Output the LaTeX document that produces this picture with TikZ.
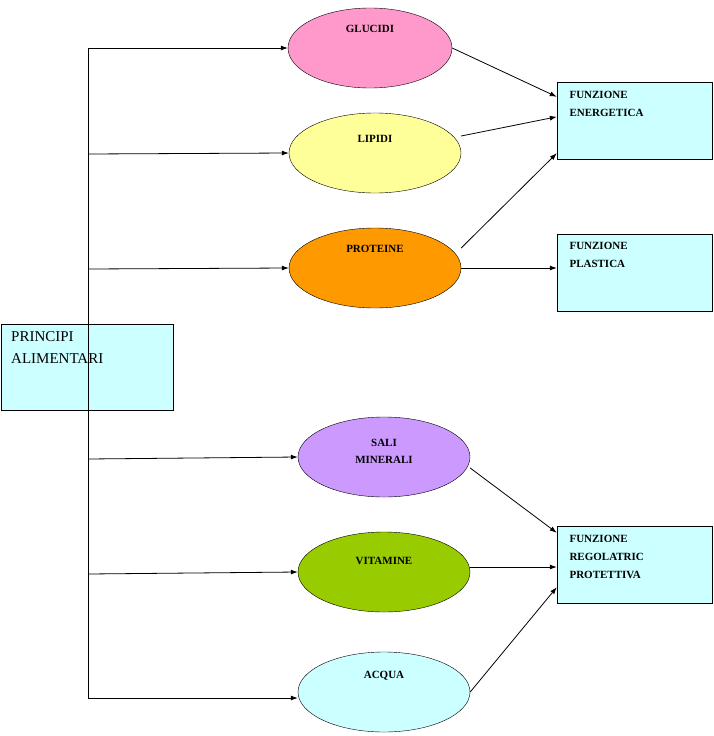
\documentclass[tikz,border=0pt]{standalone}
\usepackage{fontspec}
\setmainfont{Liberation Serif}
\usetikzlibrary{shapes.geometric,arrows.meta,calc}
\begin{document}
\begin{tikzpicture}[x=1pt,y=-1pt,
  ell/.style={ellipse,draw,minimum width=172pt,minimum height=80pt,inner sep=0pt},
  box/.style={draw,fill=cyan!20,minimum width=155pt,minimum height=77pt,inner sep=0pt},
  lab/.style={font=\bfseries\fontsize{11}{17}\selectfont,align=center},
  blab/.style={font=\bfseries\fontsize{11}{18}\selectfont,align=left,anchor=north west},
  arr/.style={-{Latex[length=7pt,width=5pt]},line width=0.8pt}]
\useasboundingbox (0,0) rectangle (713,736);
\definecolor{pk}{HTML}{FF99CC}\definecolor{yl}{HTML}{FFFF99}\definecolor{or}{HTML}{FF9900}
\definecolor{li}{HTML}{CC99FF}\definecolor{gr}{HTML}{99CC00}\definecolor{cy}{HTML}{CCFFFF}
\node[draw,fill=cy,minimum width=172pt,minimum height=86pt,inner sep=0pt] (pa) at (87,367) {};
\node[anchor=north west,align=left,font=\fontsize{15}{22}\selectfont,inner sep=0pt] (pat) at (11,331) {PRINCIPI\\ALIMENTARI};
\node[ell,fill=pk,minimum width=164pt] (gl) at (370,48) {};
\node[ell,fill=yl] (lp) at (375,153) {};
\node[ell,fill=or] (pr) at (375,268) {};
\node[ell,fill=li] (sm) at (384,457) {};
\node[ell,fill=gr] (vi) at (384,572) {};
\node[ell,fill=cy] (ac) at (384,692) {};
\node[lab] (glt) at (370,29) {GLUCIDI};
\node[lab] (lpt) at (375,139) {LIPIDI};
\node[lab] (prt) at (375,249) {PROTEINE};
\node[lab] (smt) at (384,451) {SALI\\MINERALI};
\node[lab] (vit) at (384,561) {VITAMINE};
\node[lab] (act) at (384,676) {ACQUA};
\node[box,fill=cy] (fe) at (634.5,120.5) {};
\node[box,fill=cy] (fp) at (634.5,272.5) {};
\node[box,fill=cy] (fr) at (634.5,564.5) {};
\node[blab] (fet) at (566,88) {FUNZIONE\\ENERGETICA};
\node[blab] (fpt) at (566,239) {FUNZIONE\\PLASTICA};
\node[blab] (frt) at (566,532) {FUNZIONE\\REGOLATRIC\\PROTETTIVA};
\coordinate (top) at (88,48);
\coordinate (bot) at (88,698);
\draw[line width=0.8pt] (top) -- (bot);
\draw[arr] (top) -- (gl.west);
\draw[arr] (88,154) -- (lp.west);
\draw[arr] (88,269) -- (pr.west);
\draw[arr] (88,459) -- (sm.west);
\draw[arr] (88,574) -- (vi.west);
\draw[arr] (bot) -- (ac.west|-bot);
\draw[arr] (gl.east) -- ($(fe.north west)+(0,15)$);
\draw[arr] ($(lp.east)+(0,-17)$) -- ($(fe.north west)+(0,35)$);
\draw[arr] ($(pr.east)+(0,-20)$) -- ($(fe.south west)+(0,-6)$);
\draw[arr] (pr.east) -- (fp.west|-pr.east);
\draw[arr] ($(sm.east)+(0,11)$) -- ($(fr.north west)+(0,7)$);
\draw[arr] ($(vi.east)+(0,-5)$) -- (fr.west|-567,567);
\draw[arr] (ac.east) -- ($(fr.south west)+(0,-16)$);
\end{tikzpicture}
\end{document}
